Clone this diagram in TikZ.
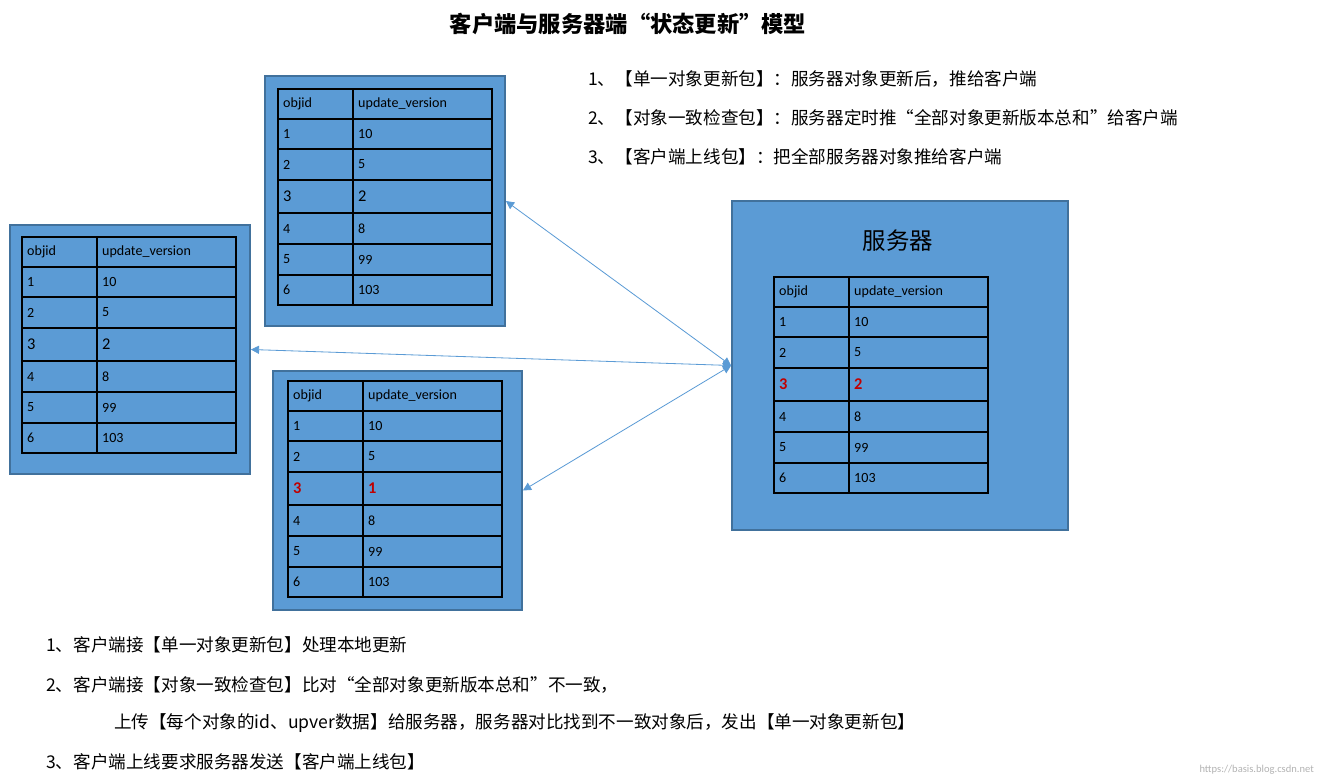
\documentclass[tikz,border=0pt]{standalone}
\usepackage{fontspec}
\setmainfont{Carlito}
\newfontfamily\cjk{Noto Sans CJK SC}
\usetikzlibrary{arrows.meta}
\definecolor{boxfill}{RGB}{91,155,213}
\definecolor{boxline}{RGB}{65,113,156}
\definecolor{keyred}{RGB}{192,0,0}

% one version table, #1/#2 top left corner, #3 row-3 style, #4 id, #5 version
\newcommand{\vtable}[5]{%
  \begin{scope}[shift={(#1,#2)}]
    \foreach \ya/\yb/\k/\v in {0/30/objid/update\_version, 30/60/1/10, 60/91/2/5,
                               124/155/4/8, 155/186/5/99, 186/216/6/103}{
      \draw[cell] (0,\ya) rectangle (75,\yb);
      \draw[cell] (75,\ya) rectangle (214,\yb);
      \node[celltext] at (5,{(\ya+\yb)/2}) {\k};
      \node[celltext] at (80,{(\ya+\yb)/2}) {\v};
    }
    \draw[cell] (0,91) rectangle (75,124);
    \draw[cell] (75,91) rectangle (214,124);
    \node[celltext, #3] at (5,107.5) {#4};
    \node[celltext, #3] at (80,107.5) {#5};
  \end{scope}}

\begin{document}
\begin{tikzpicture}[x=0.03cm, y=-0.03cm,
    box/.style={rectangle, draw=boxline, line width=1.5pt, fill=boxfill},
    cell/.style={draw=black, line width=1pt},
    celltext/.style={anchor=west, inner sep=0pt, font=\fontsize{12}{14}\selectfont},
    bigrow/.style={font=\fontsize{14}{16}\selectfont},
    redrow/.style={font=\fontsize{14}{16}\selectfont\bfseries, text=keyred},
    note/.style={anchor=west, inner sep=0pt, font=\cjk\fontsize{15}{18}\selectfont},
    link/.style={draw=boxfill, line width=0.7pt, {Triangle[width=7pt,length=7pt]}-{Triangle[width=7pt,length=7pt]}}]
\useasboundingbox (0,0) rectangle (1324,782);

% Title and notes
\node[font=\cjk\bfseries\fontsize{19}{22}\selectfont] (title) at (628,24) {客户端与服务器端“状态更新”模型};
\node[note] (s1) at (588,79) {1、【单一对象更新包】：服务器对象更新后，推给客户端};
\node[note] (s2) at (588,118) {2、【对象一致检查包】：服务器定时推“全部对象更新版本总和”给客户端};
\node[note] (s3) at (588,157) {3、【客户端上线包】：把全部服务器对象推给客户端};
\node[note] (c1) at (46,645) {1、客户端接【单一对象更新包】处理本地更新};
\node[note] (c2) at (46,685) {2、客户端接【对象一致检查包】比对“全部对象更新版本总和”不一致，};
\node[note] (c2b) at (114,723) {上传【每个对象的id、upver数据】给服务器，服务器对比找到不一致对象后，发出【单一对象更新包】};
\node[note] (c3) at (46,762) {3、客户端上线要求服务器发送【客户端上线包】};

% Boxes
\node[box, minimum width=7.2cm, minimum height=7.5cm] (cliA) at (385,201) {};
\node[box, minimum width=7.2cm, minimum height=7.47cm] (cliB) at (130,349.5) {};
\node[box, minimum width=7.47cm, minimum height=7.17cm] (cliC) at (397.5,490.5) {};
\node[box, minimum width=10.08cm, minimum height=9.87cm] (srv) at (900,365.5) {};
\node[font=\cjk\fontsize{20}{24}\selectfont] (srvname) at (898,241) {服务器};

% Tables
\vtable{278}{89}{bigrow}{3}{2}
\vtable{22}{237}{bigrow}{3}{2}
\vtable{288}{381}{redrow}{3}{1}
\vtable{774}{277}{redrow}{3}{2}

% Arrows
\draw[link] (srv.west) -- (cliA.east);
\draw[link] (srv.west) -- (cliB.east);
\draw[link] (srv.west) -- (cliC.east);

\node[anchor=east, text=gray!60, font=\fontsize{9}{10}\selectfont] (mark) at (1318,770) {https://basis.blog.csdn.net};
\end{tikzpicture}
\end{document}
